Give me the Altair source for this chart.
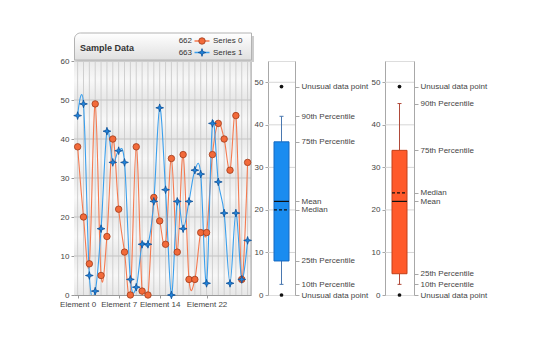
import altair as alt
import pandas as pd

FONT = "Liberation Sans"

# ---------------- data ----------------
elements = list(range(30))
series0 = [38, 20, 8, 49, 5, 15, 40, 22, 11, 0, 38, 1, 0, 25, 19, 13, 35, 11, 36, 4,
           4, 16, 16, 36, 44, 40, 32, 46, 4, 34]
series1 = [46, 49, 5, 1, 17, 42, 34, 37, 34, 4, 2, 13, 13, 24, 48, 27, 0, 24, 17, 24,
           32, 31, 3, 44, 29, 21, 3, 21, 4, 14]
series_names = ["Series 0", "Series 1"]
y_ticks = [0, 10, 20, 30, 40, 50, 60]
x_label_ticks = [0, 7, 14, 22]

stat_labels = ["Unusual data point", "90th Percentile", "75th Percentile", "Median",
               "Mean", "25th Percentile", "10th Percentile", "Unusual data point"]
stat_keys = ["high", "p90", "q3", "median", "mean", "q1", "p10", "low"]
blue_stats = [49, 42, 36, 20, 22, 8, 2.5, 0]
orange_stats = [49, 45, 34, 24, 22, 5, 2.5, 0]
box_ticks = [0, 10, 20, 30, 40, 50]

ORANGE_LINE = "#f47a50"
ORANGE_FILL = "#f26a3a"
ORANGE_STROKE = "#a03c1c"
BLUE_LINE = "#3a9fec"
BLUE_FILL = "#1f83dc"
BLUE_STROKE = "#0d4f96"
STAR = "M0,-1L0.24,-0.24L1,0L0.24,0.24L0,1L-0.24,0.24L-1,0L-0.24,-0.24Z"

line_colors = [ORANGE_LINE, BLUE_LINE]
fill_colors = [ORANGE_FILL, BLUE_FILL]
stroke_colors = [ORANGE_STROKE, BLUE_STROKE]
shapes = ["circle", STAR]
sizes = [42, 60]

# ---------------- main chart ----------------
XMIN, XMAX = -0.62, 29.58
W, H = 177, 234

long = pd.DataFrame({
    "element": elements * 2,
    "value": series0 + series1,
    "series": [series_names[0]] * len(series0) + [series_names[1]] * len(series1),
})

x_axis = alt.Axis(values=x_label_ticks, labelExpr="'Element ' + datum.value",
                  title=None, grid=False, domainColor="#9a9a9a", tickColor="#9a9a9a",
                  tickSize=3, labelColor="#444", labelFontSize=8, labelPadding=2,
                  labelFont=FONT)
y_axis = alt.Axis(values=y_ticks, title=None, grid=False, domainColor="#9a9a9a",
                  tickColor="#9a9a9a", tickSize=3, labelColor="#444", labelFontSize=8,
                  labelPadding=2, labelFont=FONT)
xs = alt.Scale(domain=[XMIN, XMAX], nice=False, zero=False)
ys = alt.Scale(domain=[0, 60], nice=False)

bands = pd.DataFrame({"y0": y_ticks[:-1], "y1": y_ticks[1:], "x0": XMIN, "x1": XMAX})
band_layer = alt.Chart(bands).mark_rect(
    fill=alt.Gradient(gradient="linear", x1=0, x2=0, y1=0, y2=1,
                      stops=[alt.GradientStop(offset=0, color="#eaeaea"),
                             alt.GradientStop(offset=0.5, color="#f8f8f8"),
                             alt.GradientStop(offset=1, color="#e7e7e7")])
).encode(
    x=alt.X("x0:Q", scale=xs, axis=x_axis), x2="x1:Q",
    y=alt.Y("y0:Q", scale=ys, axis=y_axis), y2="y1:Q",
)

vgrid = alt.Chart(pd.DataFrame({"element": elements})).mark_rule(
    color="#cfcfcf", strokeWidth=1).encode(x=alt.X("element:Q", scale=xs, axis=x_axis))
hgrid = alt.Chart(pd.DataFrame({"v": y_ticks[1:]})).mark_rule(
    color="#c4c4c4", strokeWidth=1).encode(y=alt.Y("v:Q", scale=ys, axis=y_axis))
right_border = alt.Chart(pd.DataFrame({"xr": [XMAX]})).mark_rule(
    color="#a8a8a8").encode(x=alt.X("xr:Q", scale=xs, axis=x_axis))

lines = alt.Chart(long).mark_line(interpolate="cardinal", clip=True, strokeWidth=1.1).encode(
    x=alt.X("element:Q", scale=xs, axis=x_axis),
    y=alt.Y("value:Q", scale=ys, axis=y_axis),
    color=alt.Color("series:N", scale=alt.Scale(domain=series_names, range=line_colors),
                    legend=None),
)
points = alt.Chart(long).mark_point(filled=True, opacity=1, strokeWidth=0.8).encode(
    x=alt.X("element:Q", scale=xs, axis=x_axis),
    y=alt.Y("value:Q", scale=ys, axis=y_axis),
    fill=alt.Fill("series:N", scale=alt.Scale(domain=series_names, range=fill_colors),
                  legend=None),
    stroke=alt.Stroke("series:N", scale=alt.Scale(domain=series_names, range=stroke_colors),
                      legend=None),
    shape=alt.Shape("series:N", scale=alt.Scale(domain=series_names, range=shapes),
                    legend=None),
    size=alt.Size("series:N", scale=alt.Scale(domain=series_names, range=sizes), legend=None),
)

one = pd.DataFrame({"k": [0]})
header_shadow = alt.Chart(one).mark_rect(fill="#cdcdcd", cornerRadiusTopLeft=6).encode(
    x=alt.value(2.5), x2=alt.value(180), y=alt.value(-25), y2=alt.value(1))
header = alt.Chart(one).mark_rect(
    stroke="#b2b2b2", strokeWidth=1, cornerRadiusTopLeft=6,
    fill=alt.Gradient(gradient="linear", x1=0, x2=0, y1=0, y2=1,
                      stops=[alt.GradientStop(offset=0, color="#ffffff"),
                             alt.GradientStop(offset=1, color="#e0e0e0")])
).encode(x=alt.value(0.5), x2=alt.value(177.5), y=alt.value(-28), y2=alt.value(-1))
title_text = alt.Chart(one).mark_text(
    text="Sample Data", font=FONT, fontSize=9, fontWeight="bold", color="#333",
    align="left", baseline="middle").encode(x=alt.value(6), y=alt.value(-13.5))

legend_layers = []
totals = [sum(series0), sum(series1)]
for i, name in enumerate(series_names):
    ry = -20 + 11.5 * i
    legend_layers.append(alt.Chart(one).mark_text(
        text=str(totals[i]), font=FONT, fontSize=8, color="#333", align="right",
        baseline="middle").encode(x=alt.value(118), y=alt.value(ry)))
    legend_layers.append(alt.Chart(one).mark_line(
        interpolate="cardinal", color=line_colors[i], strokeWidth=1.4).encode(
        x=alt.value(121), y=alt.value(ry + 2)) if False else
        alt.Chart(one).mark_rule(color=line_colors[i], strokeWidth=1.5).encode(
        x=alt.value(120.5), x2=alt.value(135.5), y=alt.value(ry)))
    legend_layers.append(alt.Chart(one).mark_point(
        filled=True, opacity=1, strokeWidth=0.8, fill=fill_colors[i],
        stroke=stroke_colors[i], shape=shapes[i], size=sizes[i]).encode(
        x=alt.value(128), y=alt.value(ry)))
    legend_layers.append(alt.Chart(one).mark_text(
        text=name, font=FONT, fontSize=8, color="#333", align="left",
        baseline="middle").encode(x=alt.value(139), y=alt.value(ry)))

main = alt.layer(
    band_layer, vgrid, hgrid, right_border, lines, points,
    header_shadow, header, title_text, *legend_layers,
).resolve_scale(color="independent", fill="independent", stroke="independent",
                shape="independent", size="independent").properties(width=W, height=H)


# ---------------- box panels ----------------
def box_panel(values, fill, stroke, whisker, width):
    s = dict(zip(stat_keys, values))
    df = pd.DataFrame([dict(name="box", **s)])
    bys = alt.Scale(domain=[0, 55], nice=False)
    left_axis = alt.Axis(values=box_ticks, title=None, grid=False, domainColor="#a8a8a8",
                         tickColor="#a8a8a8", tickSize=3, labelColor="#444",
                         labelFontSize=8, labelPadding=2, labelFont=FONT)
    bx = alt.X("name:N", axis=None)
    cx = width / 2.0
    grid = alt.Chart(pd.DataFrame({"g": box_ticks[1:]})).mark_rule(
        color="#d6d6d6").encode(y=alt.Y("g:Q", scale=bys, axis=left_axis))
    w_hi = alt.Chart(df).mark_rule(color=whisker, strokeWidth=1).encode(
        x=bx, y=alt.Y("q3:Q", scale=bys, axis=left_axis), y2="p90:Q")
    w_lo = alt.Chart(df).mark_rule(color=whisker, strokeWidth=1).encode(
        x=bx, y=alt.Y("p10:Q", scale=bys, axis=left_axis), y2="q1:Q")
    cap_hi = alt.Chart(df).mark_rule(color=whisker, strokeWidth=1).encode(
        x=alt.value(cx - 2), x2=alt.value(cx + 2), y=alt.Y("p90:Q", scale=bys, axis=left_axis))
    cap_lo = alt.Chart(df).mark_rule(color=whisker, strokeWidth=1).encode(
        x=alt.value(cx - 2), x2=alt.value(cx + 2), y=alt.Y("p10:Q", scale=bys, axis=left_axis))
    bar = alt.Chart(df).mark_bar(size=15, fill=fill, stroke=stroke, strokeWidth=1).encode(
        x=bx, y=alt.Y("q1:Q", scale=bys, axis=left_axis), y2="q3:Q")
    mean = alt.Chart(df).mark_rule(color="#111", strokeWidth=1.2).encode(
        x=alt.value(cx - 7.5), x2=alt.value(cx + 7.5),
        y=alt.Y("mean:Q", scale=bys, axis=left_axis))
    median = alt.Chart(df).mark_rule(color="#111", strokeWidth=1.2, strokeDash=[3, 2]).encode(
        x=alt.value(cx - 7.5), x2=alt.value(cx + 7.5),
        y=alt.Y("median:Q", scale=bys, axis=left_axis))
    outl = alt.Chart(pd.DataFrame({"o": [s["high"], s["low"]], "name": "box"})).mark_circle(
        color="#111", size=14, opacity=1).encode(
        x=bx, y=alt.Y("o:Q", scale=bys, axis=left_axis))
    expr = " : ".join(f"datum.value == {v} ? '{t}'" for v, t in zip(values, stat_labels)) + " : ''"
    right_axis = alt.Axis(orient="right", values=values, labelExpr=expr, title=None,
                          grid=False, domainColor="#a8a8a8", tickColor="#a8a8a8",
                          tickSize=4, labelColor="#444", labelFontSize=8,
                          labelPadding=2, labelFont=FONT, labelOverlap=False,
                          labelBound=False)
    right = alt.Chart(pd.DataFrame({"v": values})).mark_point(opacity=0).encode(
        y=alt.Y("v:Q", scale=alt.Scale(domain=[0, 55], nice=False), axis=right_axis))
    left = alt.layer(grid, w_hi, w_lo, cap_hi, cap_lo, bar, mean, median, outl)
    return alt.layer(left, right).resolve_scale(y="independent").properties(
        width=width, height=H)


box_blue = box_panel(blue_stats, "#1a8cf0", "#1669c0", "#4a78b0", 27)
box_orange = box_panel(orange_stats, "#ff5a2a", "#c23f18", "#b04a3a", 29)

chart = alt.hconcat(
    main,
    alt.hconcat(box_blue, box_orange, spacing=90, bounds="flush"),
    spacing=17, bounds="flush",
).properties(
    padding={"left": 59, "top": 32, "right": 0, "bottom": 0}
).configure_view(stroke=None).configure(font=FONT)

chart.save("out.html", embed_options={"renderer": "svg", "actions": False})
